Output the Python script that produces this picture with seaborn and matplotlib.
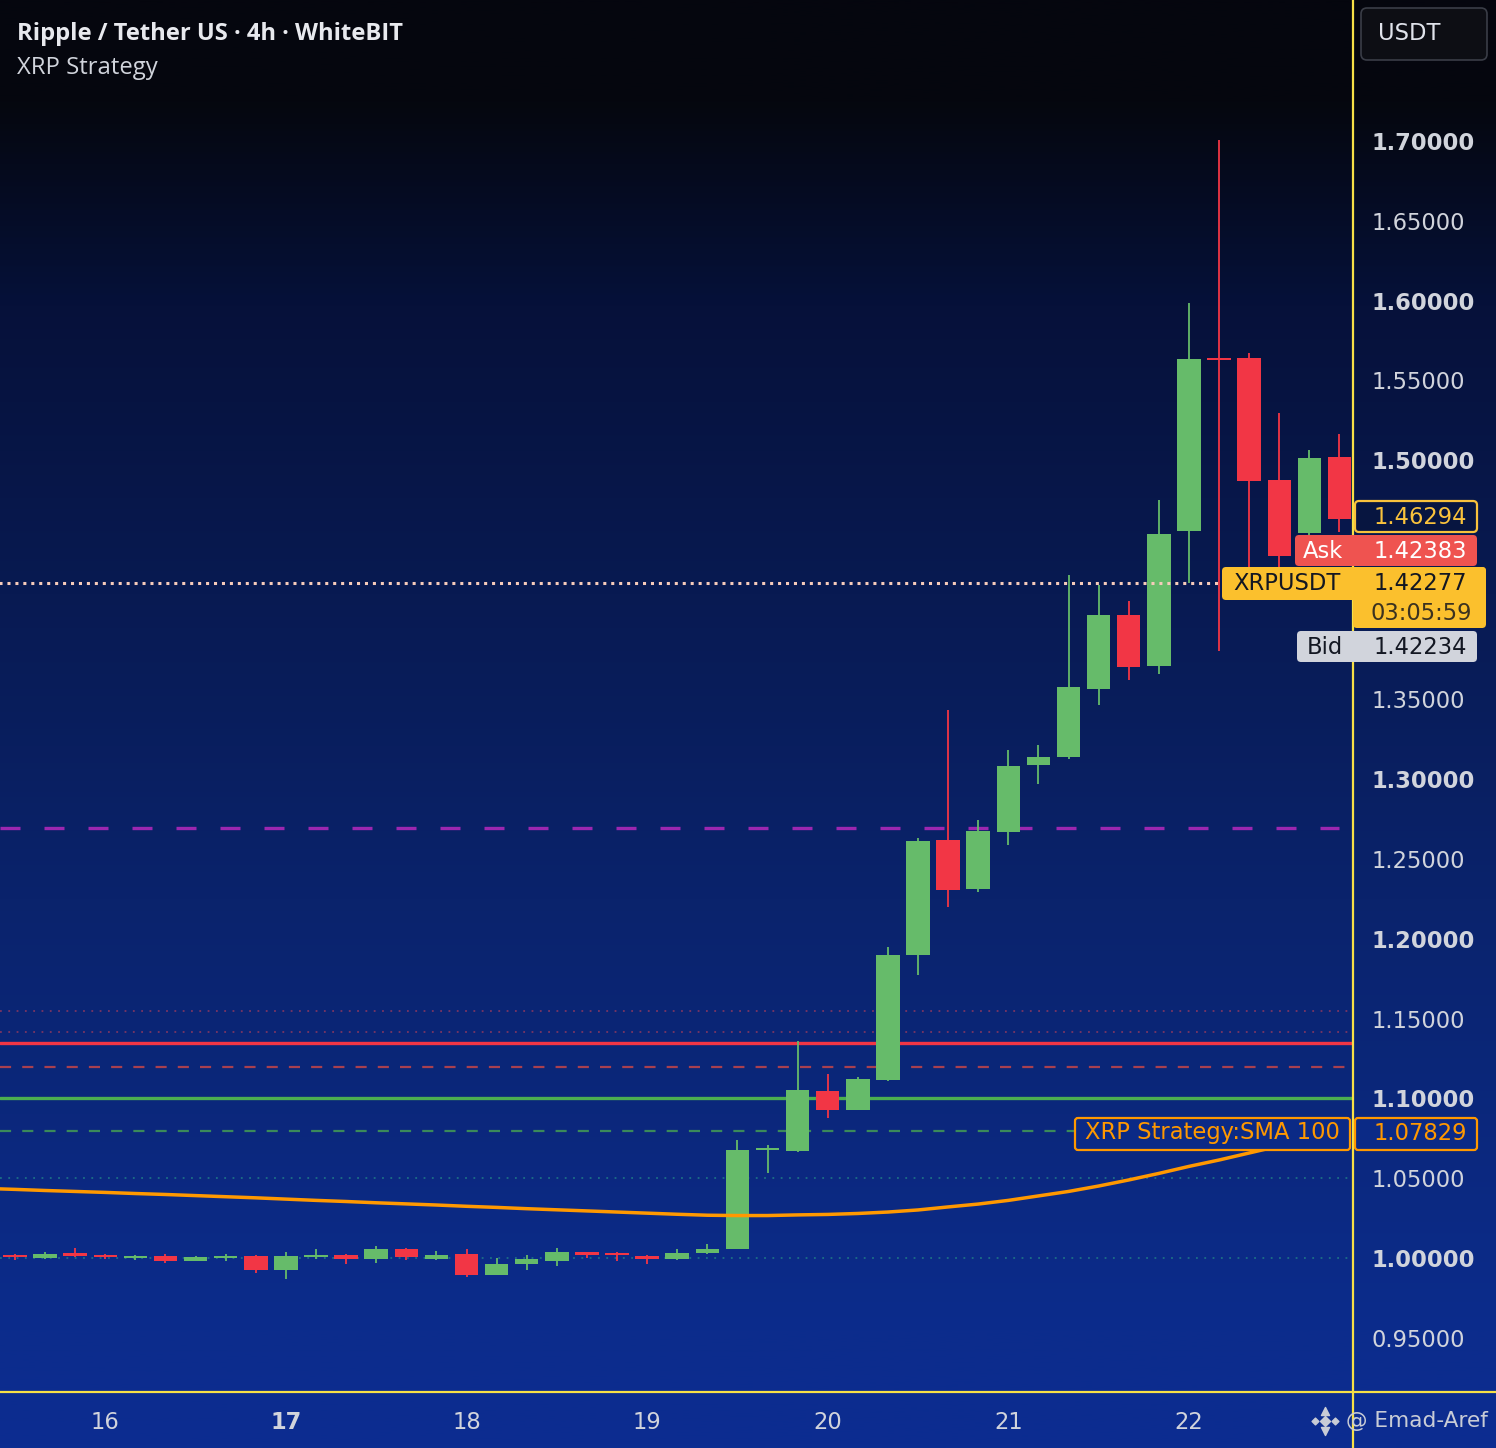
import numpy as np
import pandas as pd
import matplotlib
matplotlib.use("Agg")
import matplotlib.pyplot as plt
import seaborn as sns
from matplotlib.patches import FancyBboxPatch
from matplotlib.colors import LinearSegmentedColormap

# ---------------- data ----------------
opens = [1.0017, 1.0003, 1.0030, 1.0017, 1.0003, 1.0012, 0.9981, 1.0003, 1.0012, 0.9925,
         1.0008, 1.0020, 0.9996, 1.0058, 0.9996, 1.0027, 0.9893, 0.9960, 0.9983, 1.0037,
         1.0030, 1.0012, 0.9996, 1.0030, 1.0055, 1.0677, 1.0670, 1.1047, 1.0928, 1.1116,
         1.1899, 1.2620, 1.2312, 1.2670, 1.3090, 1.3140, 1.3566, 1.4030, 1.3710, 1.4556,
         1.5640, 1.5643, 1.4875, 1.4544, 1.5017]
highs = [1.0022, 1.0040, 1.0060, 1.0022, 1.0017, 1.0025, 1.0012, 1.0022, 1.0017, 1.0037,
         1.0056, 1.0028, 1.0075, 1.0065, 1.0045, 1.0058, 0.9997, 1.0020, 1.0060, 1.0037,
         1.0037, 1.0017, 1.0058, 1.0090, 1.0740, 1.0710, 1.1360, 1.1153, 1.1134, 1.1949,
         1.2632, 1.3434, 1.2745, 1.3183, 1.3215, 1.4280, 1.4218, 1.4117, 1.4750, 1.5985,
         1.7006, 1.5671, 1.5295, 1.5063, 1.5164]
lows = [0.9990, 0.9994, 1.0005, 0.9995, 0.9990, 0.9970, 0.9981, 0.9981, 0.9906, 0.9868,
        0.9992, 0.9962, 0.9970, 0.9990, 0.9990, 0.9880, 0.9893, 0.9925, 0.9950, 0.9997,
        0.9980, 0.9962, 0.9990, 1.0022, 1.0055, 1.0533, 1.0665, 1.0877, 1.0925, 1.1110,
        1.1773, 1.2200, 1.2294, 1.2588, 1.2970, 1.3127, 1.3466, 1.3622, 1.3660, 1.4233,
        1.3804, 1.4300, 1.4300, 1.4470, 1.4550]
closes = [1.0008, 1.0028, 1.0012, 1.0008, 1.0010, 0.9981, 1.0004, 1.0015, 0.9925, 1.0012,
          1.0017, 0.9996, 1.0058, 1.0008, 1.0020, 0.9893, 0.9960, 0.9992, 1.0037, 1.0020,
          1.0020, 0.9995, 1.0030, 1.0055, 1.0677, 1.0683, 1.1053, 1.0928, 1.1122, 1.1899,
          1.2613, 1.2306, 1.2676, 1.3083, 1.3140, 1.3578, 1.4030, 1.3704, 1.4537, 1.5634,
          1.5625, 1.4869, 1.4399, 1.5016, 1.46294]
# SMA 100 starts one bar before the first visible candle (it runs in from the left edge)
sma_index = list(range(-1, 45))
sma100 = [1.0436,
          1.0430, 1.0423, 1.0417, 1.0411, 1.0404, 1.0398, 1.0391, 1.0384, 1.0377, 1.0369,
          1.0361, 1.0354, 1.0346, 1.0339, 1.0332, 1.0324, 1.0317, 1.0309, 1.0302, 1.0295,
          1.0288, 1.0281, 1.0274, 1.0268, 1.0266, 1.0266, 1.0270, 1.0273, 1.0279, 1.0288,
          1.0301, 1.0320, 1.0338, 1.0361, 1.0389, 1.0417, 1.0451, 1.0489, 1.0530, 1.0574,
          1.0614, 1.0658, 1.0702, 1.0743, 1.0783]

day_tick_index = [3, 9, 15, 21, 27, 33, 39]
day_labels = ["16", "17", "18", "19", "20", "21", "22"]
bold_days = ["17"]

price_ticks = [0.95, 1.00, 1.05, 1.10, 1.15, 1.20, 1.25, 1.30, 1.35, 1.50, 1.55, 1.60, 1.65, 1.70]
bold_prices = [1.00, 1.10, 1.20, 1.30, 1.50, 1.60, 1.70]

last_price = 1.42277
purple_level = 1.2695
pink_dotted_levels = [1.1548, 1.1416]
red_level = 1.1347
red_dashed_level = 1.1197
green_level = 1.1003
green_dashed_level = 1.0796
teal_dotted_levels = [1.0500, 1.0000]

title_text = "Ripple / Tether US · 4h · WhiteBIT"
subtitle_text = "XRP Strategy"

# ---------------- figure ----------------
W, H = 1496, 1448
DPI = 100
fig = plt.figure(figsize=(W / DPI, H / DPI), dpi=DPI)
sns.set_style("white")
plt.rcParams['font.family'] = ['DejaVu Sans']

# gradient background
bg = fig.add_axes([0, 0, 1, 1], zorder=-10)
cmap = LinearSegmentedColormap.from_list(
    "tv", [(0.0, "#05060e"), (0.07, "#05070f"), (0.21, "#06113a"), (0.41, "#081a52"),
           (0.62, "#0a236c"), (0.92, "#0c2c8c"), (1.0, "#0c2d91")])
grad = np.linspace(0, 1, 512).reshape(-1, 1)
bg.imshow(grad, aspect="auto", cmap=cmap, extent=[0, 1, 0, 1], origin="upper")
bg.set_axis_off()

# main axes
PLOT_R = 1353
PLOT_B = 1392
ax = fig.add_axes([0, (H - PLOT_B) / H, PLOT_R / W, PLOT_B / H], zorder=1)
ax.set_facecolor("none")

n = len(opens)
df = pd.DataFrame({"idx": np.arange(n), "open": opens, "high": highs, "low": lows,
                   "close": closes})
df["up"] = df["close"] >= df["open"]
sma_df = pd.DataFrame({"idx": sma_index, "sma": sma100})
GREEN = "#66bb6a"
RED = "#f23645"
colors = np.where(df["up"], GREEN, RED)

# wicks
ax.vlines(df["idx"], df["low"], df["high"], colors=colors, linewidth=1.3, zorder=3)
# bodies
body_bottom = np.minimum(df["open"], df["close"])
body_h = np.maximum(np.abs(df["close"] - df["open"]), 0.0012)
ax.bar(df["idx"], body_h, bottom=body_bottom, width=0.78, color=colors, linewidth=0, zorder=4)

# horizontal levels
ax.axhline(purple_level, xmax=0.99, color="#9c27b0", linewidth=2.4, dashes=(6, 7.2), zorder=2)
for lv in pink_dotted_levels:
    ax.axhline(lv, color="#7a3563", linewidth=1.3, dashes=(1, 3.6), zorder=2)
ax.axhline(red_level, color=RED, linewidth=2.4, zorder=2)
ax.axhline(red_dashed_level, color="#a8404f", linewidth=1.6, dashes=(5, 5), zorder=2)
ax.axhline(green_level, color="#4caf50", linewidth=2.4, zorder=2)
ax.axhline(green_dashed_level, xmax=0.80, color="#3a8a5a", linewidth=1.6, dashes=(5, 5), zorder=2)
for lv in teal_dotted_levels:
    ax.axhline(lv, color="#1c6f86", linewidth=1.3, dashes=(1, 3.6), zorder=2)

# last price dotted line
ax.plot([-0.6, 40.0], [last_price, last_price], color="#f6cbbb", linewidth=2.2,
        dashes=(1.0, 1.6), zorder=5)

# SMA 100 line
sns.lineplot(data=sma_df, x="idx", y="sma", ax=ax, color="#ff9800", linewidth=2.5, zorder=5,
             legend=False)

ax.set_xlim(-0.498, 44.45)
ax.set_ylim(0.91602, 1.78836)
for s in ax.spines.values():
    s.set_visible(False)
ax.grid(False)

ax.yaxis.tick_right()
ax.set_yticks(price_ticks)
ax.set_yticklabels([f"{p:.5f}" for p in price_ticks])
ax.tick_params(axis="y", length=0, pad=13.5, labelsize=16.3, labelcolor="#d1d4dc")
for lab, p in zip(ax.get_yticklabels(), price_ticks):
    if any(abs(p - b) < 1e-9 for b in bold_prices):
        lab.set_fontweight("bold")

ax.set_xticks(day_tick_index)
ax.set_xticklabels(day_labels)
ax.tick_params(axis="x", length=0, pad=14, labelsize=16.3, labelcolor="#d1d4dc")
for lab in ax.get_xticklabels():
    if lab.get_text() in bold_days:
        lab.set_fontweight("bold")
ax.set_xlabel("")
ax.set_ylabel("")

# ---------------- overlay in pixel coordinates ----------------
ov = fig.add_axes([0, 0, 1, 1], zorder=10)
ov.set_xlim(0, W)
ov.set_ylim(H, 0)
ov.set_axis_off()
ov.patch.set_alpha(0)

YEL = "#f7e046"
ov.plot([PLOT_R, PLOT_R], [0, H], color=YEL, linewidth=1.6)
ov.plot([0, W], [PLOT_B, PLOT_B], color=YEL, linewidth=1.6)


def box(x0, y0, x1, y1, fc, ec="none", lw=0, r=4):
    p = FancyBboxPatch((x0, y0), x1 - x0, y1 - y0,
                       boxstyle=f"round,pad=0,rounding_size={r}",
                       fc=fc, ec=ec, lw=lw, zorder=20)
    ov.add_patch(p)


fs = 16.3
# 1.46294 label
box(1355, 501, 1477, 532, fc="#071540", ec="#f9c23c", lw=1.6)
ov.text(1420, 517, "1.46294", color="#f9c23c", fontsize=fs, ha="center", va="center", zorder=21)
# Ask
box(1295, 535, 1477, 566, fc="#ef5350")
ov.text(1323, 551, "Ask", color="#ffffff", fontsize=fs, ha="center", va="center", zorder=21)
ov.text(1420, 551, "1.42383", color="#ffffff", fontsize=fs, ha="center", va="center", zorder=21)
# XRPUSDT last price
box(1222, 567, 1486, 600, fc="#fbc02d")
box(1353, 567, 1486, 628, fc="#fbc02d")
ov.text(1287, 584, "XRPUSDT", color="#131722", fontsize=fs, ha="center", va="center", zorder=21)
ov.text(1420, 584, "1.42277", color="#131722", fontsize=fs, ha="center", va="center", zorder=21)
ov.text(1421, 613, "03:05:59", color="#3b3220", fontsize=fs, ha="center", va="center", zorder=21)
# Bid
box(1297, 631, 1477, 662, fc="#d1d4dc")
ov.text(1325, 647, "Bid", color="#131722", fontsize=fs, ha="center", va="center", zorder=21)
ov.text(1420, 647, "1.42234", color="#131722", fontsize=fs, ha="center", va="center", zorder=21)
# SMA label
box(1075, 1118, 1350, 1150, fc="#0b2a86", ec="#ff9800", lw=1.6, r=3)
ov.text(1212, 1133, "XRP Strategy:SMA 100", color="#ff9800", fontsize=fs, ha="center",
        va="center", zorder=21)
box(1355, 1118, 1477, 1150, fc="#0b2a86", ec="#ff9800", lw=1.6, r=3)
ov.text(1420, 1133, "1.07829", color="#ff9800", fontsize=fs, ha="center", va="center", zorder=21)

# USDT box
box(1361, 8, 1487, 60, fc="#0d0e14", ec="#3a3d47", lw=1.2, r=6)
ov.text(1378, 34, "USDT", color="#e0e3eb", fontsize=fs, ha="left", va="center", zorder=21)

# title
ov.text(17, 34, title_text, color="#e8e9ee", fontsize=17.1, fontweight="bold",
        ha="left", va="center", family=["Open Sans", "DejaVu Sans"], zorder=21)
ov.text(17, 68, subtitle_text, color="#d1d4dc", fontsize=17.2,
        ha="left", va="center", family=["Open Sans", "DejaVu Sans"], zorder=21)

# watermark
ov.scatter([1325], [1421], marker="D", s=26, color="#c8ccd6", zorder=21)
ov.scatter([1315, 1335], [1421, 1421], marker="D", s=12, color="#c8ccd6", zorder=21)
ov.scatter([1325], [1411], marker="^", s=34, color="#c8ccd6", zorder=21)
ov.scatter([1325], [1431], marker="v", s=34, color="#c8ccd6", zorder=21)
ov.text(1346, 1421, "@ Emad-Aref", color="#c8ccd6", fontsize=15.6, ha="left", va="center", zorder=21)

fig.savefig("out.png", dpi=DPI)
